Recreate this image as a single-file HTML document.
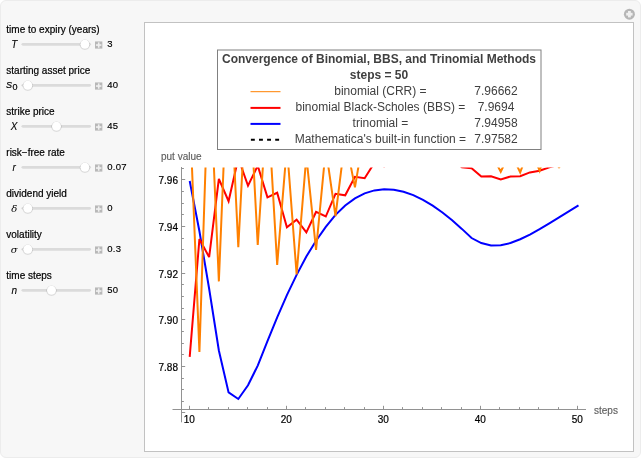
<!DOCTYPE html>
<html><head><meta charset="utf-8"><title>Convergence of Binomial, BBS, and Trinomial Methods</title>
<style>
html,body{margin:0;padding:0;background:#fff;}
body{width:641px;height:459px;position:relative;overflow:hidden;font-family:"Liberation Sans",sans-serif;}
#outer{position:absolute;left:0;top:0;width:639px;height:456px;background:#f7f7f7;border:1px solid #ececec;border-radius:6px;}
#panel{position:absolute;left:144px;top:22px;width:488px;height:428px;background:#fff;border:1px solid #c2c2c2;}
.lab{position:absolute;left:6.3px;font-size:10px;line-height:12px;color:#000;white-space:nowrap;-webkit-text-stroke:0.2px #000;}
.sym{position:absolute;left:8.2px;width:12px;text-align:center;font-size:10px;line-height:12px;color:#000;white-space:nowrap;-webkit-text-stroke:0.1px #000;}
.sym.gr{font-family:"DejaVu Serif","Liberation Serif",serif;font-size:10px;-webkit-text-stroke:0;}
.sub{font-size:9px;position:relative;top:2.2px;left:0.6px;}
.val{position:absolute;left:107.3px;font-size:9.5px;line-height:12px;color:#000;letter-spacing:0.25px;-webkit-text-stroke:0.15px #000;}
svg{position:absolute;left:0;top:0;}
svg text{font-family:"Liberation Sans",sans-serif;}
</style></head><body>
<div id="outer"></div>
<div id="panel"></div>
<div class="lab" style="top:24px">time to expiry (years)</div>
<div class="sym" style="top:39.0px"><i>T</i></div>
<div class="val" style="top:38.0px">3</div>
<div class="lab" style="top:65px">starting asset price</div>
<div class="sym" style="top:78.6px;left:6px;width:auto;font-size:9px;-webkit-text-stroke:0.2px #000"><i>S</i><span class="sub">0</span></div>
<div class="val" style="top:79.0px">40</div>
<div class="lab" style="top:106px">strike price</div>
<div class="sym" style="top:121.0px"><i>X</i></div>
<div class="val" style="top:120.0px">45</div>
<div class="lab" style="top:147px">risk−free rate</div>
<div class="sym" style="top:162.0px"><i>r</i></div>
<div class="val" style="top:161.0px">0.07</div>
<div class="lab" style="top:188px">dividend yield</div>
<div class="sym gr" style="top:203.0px"><i>δ</i></div>
<div class="val" style="top:202.0px">0</div>
<div class="lab" style="top:229px">volatility</div>
<div class="sym gr" style="top:244.0px"><i>σ</i></div>
<div class="val" style="top:243.0px">0.3</div>
<div class="lab" style="top:270px">time steps</div>
<div class="sym" style="top:285.0px"><i>n</i></div>
<div class="val" style="top:284.0px">50</div>
<svg width="641" height="459" viewBox="0 0 641 459">
<rect x="21.5" y="42.90" width="69.5" height="2.9" rx="1.45" fill="#dbdbdb"/>
<circle cx="84.90" cy="44.80" r="5.3" fill="#000" fill-opacity="0.07"/>
<circle cx="84.90" cy="44.45" r="5.0" fill="#000" fill-opacity="0.07"/>
<circle cx="84.90" cy="44.35" r="4.5" fill="#fff"/>
<rect x="95" y="41.45" width="7.35" height="7.15" fill="#b8b8b8"/>
<rect x="95.95" y="44.25" width="5.45" height="1.6" fill="#f0f0f0"/>
<rect x="97.9" y="42.35" width="1.6" height="5.4" fill="#f0f0f0"/>
<rect x="21.5" y="83.90" width="69.5" height="2.9" rx="1.45" fill="#dbdbdb"/>
<circle cx="27.80" cy="85.80" r="5.3" fill="#000" fill-opacity="0.07"/>
<circle cx="27.80" cy="85.45" r="5.0" fill="#000" fill-opacity="0.07"/>
<circle cx="27.80" cy="85.35" r="4.5" fill="#fff"/>
<rect x="95" y="82.45" width="7.35" height="7.15" fill="#b8b8b8"/>
<rect x="95.95" y="85.25" width="5.45" height="1.6" fill="#f0f0f0"/>
<rect x="97.9" y="83.35" width="1.6" height="5.4" fill="#f0f0f0"/>
<rect x="21.5" y="124.90" width="69.5" height="2.9" rx="1.45" fill="#dbdbdb"/>
<circle cx="56.50" cy="126.80" r="5.3" fill="#000" fill-opacity="0.07"/>
<circle cx="56.50" cy="126.45" r="5.0" fill="#000" fill-opacity="0.07"/>
<circle cx="56.50" cy="126.35" r="4.5" fill="#fff"/>
<rect x="95" y="123.45" width="7.35" height="7.15" fill="#b8b8b8"/>
<rect x="95.95" y="126.25" width="5.45" height="1.6" fill="#f0f0f0"/>
<rect x="97.9" y="124.35" width="1.6" height="5.4" fill="#f0f0f0"/>
<rect x="21.5" y="165.90" width="69.5" height="2.9" rx="1.45" fill="#dbdbdb"/>
<circle cx="84.90" cy="167.80" r="5.3" fill="#000" fill-opacity="0.07"/>
<circle cx="84.90" cy="167.45" r="5.0" fill="#000" fill-opacity="0.07"/>
<circle cx="84.90" cy="167.35" r="4.5" fill="#fff"/>
<rect x="95" y="164.45" width="7.35" height="7.15" fill="#b8b8b8"/>
<rect x="95.95" y="167.25" width="5.45" height="1.6" fill="#f0f0f0"/>
<rect x="97.9" y="165.35" width="1.6" height="5.4" fill="#f0f0f0"/>
<rect x="21.5" y="206.90" width="69.5" height="2.9" rx="1.45" fill="#dbdbdb"/>
<circle cx="27.80" cy="208.80" r="5.3" fill="#000" fill-opacity="0.07"/>
<circle cx="27.80" cy="208.45" r="5.0" fill="#000" fill-opacity="0.07"/>
<circle cx="27.80" cy="208.35" r="4.5" fill="#fff"/>
<rect x="95" y="205.45" width="7.35" height="7.15" fill="#b8b8b8"/>
<rect x="95.95" y="208.25" width="5.45" height="1.6" fill="#f0f0f0"/>
<rect x="97.9" y="206.35" width="1.6" height="5.4" fill="#f0f0f0"/>
<rect x="21.5" y="247.90" width="69.5" height="2.9" rx="1.45" fill="#dbdbdb"/>
<circle cx="27.80" cy="249.80" r="5.3" fill="#000" fill-opacity="0.07"/>
<circle cx="27.80" cy="249.45" r="5.0" fill="#000" fill-opacity="0.07"/>
<circle cx="27.80" cy="249.35" r="4.5" fill="#fff"/>
<rect x="95" y="246.45" width="7.35" height="7.15" fill="#b8b8b8"/>
<rect x="95.95" y="249.25" width="5.45" height="1.6" fill="#f0f0f0"/>
<rect x="97.9" y="247.35" width="1.6" height="5.4" fill="#f0f0f0"/>
<rect x="21.5" y="288.90" width="69.5" height="2.9" rx="1.45" fill="#dbdbdb"/>
<circle cx="51.50" cy="290.80" r="5.3" fill="#000" fill-opacity="0.07"/>
<circle cx="51.50" cy="290.45" r="5.0" fill="#000" fill-opacity="0.07"/>
<circle cx="51.50" cy="290.35" r="4.5" fill="#fff"/>
<rect x="95" y="287.45" width="7.35" height="7.15" fill="#b8b8b8"/>
<rect x="95.95" y="290.25" width="5.45" height="1.6" fill="#f0f0f0"/>
<rect x="97.9" y="288.35" width="1.6" height="5.4" fill="#f0f0f0"/>
<circle cx="629.4" cy="14.2" r="5.5" fill="#b6b6b6"/>
<rect x="626.2" y="12.8" width="6.4" height="2.8" fill="#efefef"/>
<rect x="628" y="11" width="2.8" height="6.4" fill="#efefef"/>
<defs><clipPath id="cp"><rect x="172" y="167.45" width="420" height="256"/></clipPath></defs>
<g clip-path="url(#cp)" fill="none" stroke-linejoin="miter" stroke-miterlimit="3.25">
<polyline stroke="#0000ff" stroke-width="2" points="189.70,180.98 199.42,231.29 209.14,288.72 218.86,350.53 228.58,392.37 238.30,398.97 248.02,385.29 257.74,365.61 267.46,341.16 277.18,317.31 286.90,295.05 296.62,274.89 306.34,256.49 316.06,240.73 325.78,226.83 335.50,214.88 345.22,205.45 354.94,198.34 364.66,193.39 374.38,190.41 384.10,189.25 393.82,189.75 403.54,191.77 413.26,195.16 422.98,199.82 432.70,205.62 442.42,212.46 452.14,220.24 461.86,228.89 471.58,238.04 481.30,243.03 491.02,245.40 500.74,245.22 510.46,243.05 520.18,239.24 529.90,234.54 539.62,229.16 549.34,223.33 559.06,217.37 568.78,211.31 578.50,205.34"/>
<polyline stroke="#ff0000" stroke-width="2" points="189.70,356.87 199.42,238.98 209.14,257.14 218.86,178.88 228.58,201.25 238.30,158.15 248.02,185.72 257.74,165.69 267.46,197.34 277.18,192.78 286.90,227.21 296.62,219.63 306.34,232.34 316.06,211.95 325.78,216.52 335.50,193.86 345.22,195.30 354.94,176.77 364.66,178.19 374.38,162.85 384.10,166.43 393.82,154.49 403.54,159.65 413.26,151.39 422.98,157.77 432.70,153.06 442.42,160.64 452.14,158.92 461.86,167.29 471.58,168.33 481.30,176.51 491.02,176.35 500.74,179.49 510.46,176.44 520.18,176.18 529.90,172.44 539.62,170.80 549.34,167.34 559.06,164.69 568.78,161.64 578.50,159.06"/>
<polyline stroke="#ff8000" stroke-width="2" points="189.70,111.04 199.42,351.87 209.14,57.44 218.86,281.38 228.58,45.05 238.30,247.22 248.02,61.53 257.74,245.04 267.46,97.42 277.18,264.85 286.90,146.15 296.62,274.45 306.34,156.29 316.06,249.92 325.78,148.69 335.50,216.21 345.22,137.75 354.94,187.41 364.66,129.88 374.38,164.06 384.10,125.49 393.82,148.58 403.54,125.55 413.26,140.14 422.98,130.10 432.70,137.85 442.42,138.61 452.14,140.60 461.86,150.58 471.58,147.80 481.30,164.56 491.02,153.27 500.74,171.68 510.46,151.76 520.18,172.40 529.90,146.36 539.62,170.70 549.34,140.28 559.06,168.00 568.78,134.30 578.50,165.54"/>
</g>
<g stroke="#929292" stroke-width="1" fill="none">
<line x1="172.5" y1="409.5" x2="586" y2="409.5"/>
<line x1="181.5" y1="167" x2="181.5" y2="422.3"/>
<line x1="181.50" y1="412.50" x2="185.20" y2="412.50"/>
<line x1="181.50" y1="401.50" x2="183.90" y2="401.50"/>
<line x1="181.50" y1="389.50" x2="183.90" y2="389.50"/>
<line x1="181.50" y1="378.50" x2="183.90" y2="378.50"/>
<line x1="181.50" y1="366.50" x2="185.20" y2="366.50"/>
<line x1="181.50" y1="354.50" x2="183.90" y2="354.50"/>
<line x1="181.50" y1="343.50" x2="183.90" y2="343.50"/>
<line x1="181.50" y1="331.50" x2="183.90" y2="331.50"/>
<line x1="181.50" y1="319.50" x2="185.20" y2="319.50"/>
<line x1="181.50" y1="308.50" x2="183.90" y2="308.50"/>
<line x1="181.50" y1="296.50" x2="183.90" y2="296.50"/>
<line x1="181.50" y1="284.50" x2="183.90" y2="284.50"/>
<line x1="181.50" y1="273.50" x2="185.20" y2="273.50"/>
<line x1="181.50" y1="261.50" x2="183.90" y2="261.50"/>
<line x1="181.50" y1="249.50" x2="183.90" y2="249.50"/>
<line x1="181.50" y1="238.50" x2="183.90" y2="238.50"/>
<line x1="181.50" y1="226.50" x2="185.20" y2="226.50"/>
<line x1="181.50" y1="214.50" x2="183.90" y2="214.50"/>
<line x1="181.50" y1="203.50" x2="183.90" y2="203.50"/>
<line x1="181.50" y1="191.50" x2="183.90" y2="191.50"/>
<line x1="181.50" y1="179.50" x2="185.20" y2="179.50"/>
<line x1="181.50" y1="168.50" x2="183.90" y2="168.50"/>
<line x1="189.50" y1="409.50" x2="189.50" y2="405.80"/>
<line x1="208.50" y1="409.50" x2="208.50" y2="407.10"/>
<line x1="228.50" y1="409.50" x2="228.50" y2="407.10"/>
<line x1="247.50" y1="409.50" x2="247.50" y2="407.10"/>
<line x1="267.50" y1="409.50" x2="267.50" y2="407.10"/>
<line x1="286.50" y1="409.50" x2="286.50" y2="405.80"/>
<line x1="305.50" y1="409.50" x2="305.50" y2="407.10"/>
<line x1="325.50" y1="409.50" x2="325.50" y2="407.10"/>
<line x1="344.50" y1="409.50" x2="344.50" y2="407.10"/>
<line x1="364.50" y1="409.50" x2="364.50" y2="407.10"/>
<line x1="383.50" y1="409.50" x2="383.50" y2="405.80"/>
<line x1="402.50" y1="409.50" x2="402.50" y2="407.10"/>
<line x1="422.50" y1="409.50" x2="422.50" y2="407.10"/>
<line x1="441.50" y1="409.50" x2="441.50" y2="407.10"/>
<line x1="461.50" y1="409.50" x2="461.50" y2="407.10"/>
<line x1="480.50" y1="409.50" x2="480.50" y2="405.80"/>
<line x1="499.50" y1="409.50" x2="499.50" y2="407.10"/>
<line x1="519.50" y1="409.50" x2="519.50" y2="407.10"/>
<line x1="538.50" y1="409.50" x2="538.50" y2="407.10"/>
<line x1="558.50" y1="409.50" x2="558.50" y2="407.10"/>
<line x1="577.50" y1="409.50" x2="577.50" y2="405.80"/>
</g>
<g font-size="10" fill="#000" stroke="#000" stroke-width="0.2">
<text x="178" y="370.50" text-anchor="end">7.88</text>
<text x="178" y="323.50" text-anchor="end">7.90</text>
<text x="178" y="277.50" text-anchor="end">7.92</text>
<text x="178" y="230.50" text-anchor="end">7.94</text>
<text x="178" y="183.50" text-anchor="end">7.96</text>
<text x="189.30" y="422.5" text-anchor="middle">10</text>
<text x="286.30" y="422.5" text-anchor="middle">20</text>
<text x="383.30" y="422.5" text-anchor="middle">30</text>
<text x="480.30" y="422.5" text-anchor="middle">40</text>
<text x="577.30" y="422.5" text-anchor="middle">50</text>
</g>
<g font-size="10" fill="#606060" stroke="#606060" stroke-width="0.15">
<text x="161" y="160">put value</text>
<text x="594" y="413.5">steps</text>
</g>
<rect x="217.5" y="50" width="323.5" height="99.5" fill="#fff" stroke="#808080" stroke-width="1"/>
<g font-size="12" fill="#404040" text-anchor="middle">
<text x="379" y="62.5" font-weight="bold">Convergence of Binomial, BBS, and Trinomial Methods</text>
<text x="379" y="78.5" font-weight="bold">steps = 50</text>
<text x="380.4" y="94.5">binomial (CRR) =</text>
<text x="380.4" y="110.5">binomial Black-Scholes (BBS) =</text>
<text x="380.4" y="126.5">trinomial =</text>
<text x="380.4" y="142.5">Mathematica's built-in function =</text>
<text x="496" y="94.5">7.96662</text>
<text x="496" y="110.5">7.9694</text>
<text x="496" y="126.5">7.94958</text>
<text x="496" y="142.5">7.97582</text>
</g>
<g fill="none">
<line x1="250.5" y1="91.7" x2="280.5" y2="91.7" stroke="#ff8000" stroke-width="1"/>
<line x1="250.5" y1="107.9" x2="280.5" y2="107.9" stroke="#ff0000" stroke-width="2"/>
<line x1="250.5" y1="123.9" x2="280.5" y2="123.9" stroke="#0000ff" stroke-width="2"/>
<line x1="250.9" y1="139.8" x2="280.5" y2="139.8" stroke="#000" stroke-width="2" stroke-dasharray="3.9,4.2"/>
</g>
</svg>
</body></html>
